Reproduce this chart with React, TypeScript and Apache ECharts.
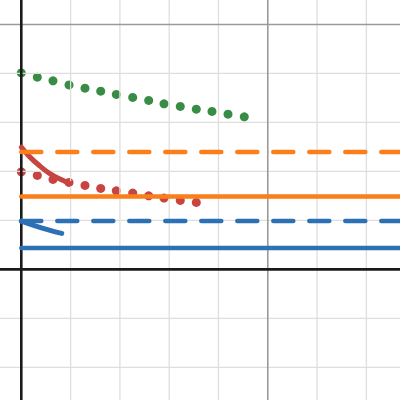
import { useEffect, useRef } from 'react';
import * as echarts from 'echarts';

// visible window, in graph units (one minor grid square = 1)
const X_MIN = -0.432;
const X_MAX = 7.682;
const Y_MIN = -2.667;
const Y_MAX = 5.5;

const minorGridX = [1, 2, 3, 4, 6, 7];
const minorGridY = [-2, -1, 1, 2, 3, 4];
const majorGridX = [5];
const majorGridY = [5];

// sample points
const dotX = [0, 0.325, 0.643, 0.968, 1.292, 1.611, 1.927, 2.26, 2.584, 2.895, 3.225, 3.55, 3.868, 4.193, 4.523];
const greenDotsY = [4.012, 3.924, 3.849, 3.767, 3.7, 3.639, 3.571, 3.51, 3.449, 3.38, 3.327, 3.271, 3.224, 3.169, 3.114];
const redDotsY = [1.992, 1.918, 1.837, 1.776, 1.714, 1.653, 1.604, 1.557, 1.502, 1.455, 1.408, 1.367];

const redCurveX = [0, 0.176, 0.38, 0.58, 0.785, 0.99];
const redCurveY = [2.496, 2.292, 2.108, 1.955, 1.843, 1.751];
const blueCurveX = [0, 0.28, 0.55, 0.82];
const blueCurveY = [0.986, 0.89, 0.808, 0.735];

const orangeDashedY = 2.394;
const orangeSolidY = 1.486;
const blueDashedY = 0.99;
const blueSolidY = 0.435;

const RED = '#c74440';
const BLUE = '#2d70b3';
const GREEN = '#388c46';
const ORANGE = '#fa7e19';

const pairs = (xs: number[], ys: number[]) => ys.map((y, i) => [xs[i], y]);

const vLine = (x: number, color: string, width: number) => ({
  type: 'line' as const,
  data: [[x, Y_MIN - 1], [x, Y_MAX + 1]],
  showSymbol: false,
  silent: true,
  lineStyle: { color, width },
});

const hLine = (y: number, color: string, width: number, dashed = false) => ({
  type: 'line' as const,
  data: [[X_MIN - 1, y], [X_MAX + 1, y]],
  showSymbol: false,
  silent: true,
  lineStyle: { color, width },
});

// horizontal lines restricted to x >= 0
const ray = (y: number, color: string, dashed: boolean) => ({
  type: 'line' as const,
  data: [[0, y], [X_MAX + 1, y]],
  showSymbol: false,
  silent: true,
  lineStyle: { color, width: 4.5, cap: 'round' as const, type: dashed ? [20, 16] : 'solid' },
});

export default function App() {
  const chartRef = useRef<HTMLDivElement>(null);

  useEffect(() => {
    if (!chartRef.current) return;
    const chart = echarts.init(chartRef.current, null, { renderer: 'svg' });

    const option: echarts.EChartsOption = {
      animation: false,
      backgroundColor: '#ffffff',
      grid: { left: 0, right: 0, top: 0, bottom: 0 },
      xAxis: {
        type: 'value',
        min: X_MIN,
        max: X_MAX,
        axisLine: { show: false },
        axisTick: { show: false },
        axisLabel: { show: false },
        splitLine: { show: false },
      },
      yAxis: {
        type: 'value',
        min: Y_MIN,
        max: Y_MAX,
        axisLine: { show: false },
        axisTick: { show: false },
        axisLabel: { show: false },
        splitLine: { show: false },
      },
      series: [
        ...minorGridX.map((x) => vLine(x, '#dedede', 1.3)),
        ...minorGridY.map((y) => hLine(y, '#dedede', 1.3)),
        ...majorGridX.map((x) => vLine(x, '#9a9a9a', 1.6)),
        ...majorGridY.map((y) => hLine(y, '#9a9a9a', 1.6)),
        vLine(0, '#1a1a1a', 2.6),
        hLine(0, '#1a1a1a', 2.6),
        {
          type: 'line',
          data: pairs(redCurveX, redCurveY),
          smooth: 0.4,
          showSymbol: false,
          lineStyle: { color: RED, width: 5, cap: 'round' },
        },
        {
          type: 'line',
          data: pairs(blueCurveX, blueCurveY),
          smooth: 0.4,
          showSymbol: false,
          lineStyle: { color: BLUE, width: 5, cap: 'round' },
        },
        {
          type: 'scatter',
          data: pairs(dotX, greenDotsY),
          symbolSize: 9,
          itemStyle: { color: GREEN, opacity: 1 },
        },
        {
          type: 'scatter',
          data: pairs(dotX, redDotsY),
          symbolSize: 9,
          itemStyle: { color: RED, opacity: 1 },
        },
        ray(orangeDashedY, ORANGE, true),
        ray(orangeSolidY, ORANGE, false),
        ray(blueDashedY, BLUE, true),
        ray(blueSolidY, BLUE, false),
      ],
    };

    chart.setOption(option);
    return () => chart.dispose();
  }, []);

  return (
    <div
      ref={chartRef}
      style={{ position: 'fixed', left: 0, top: 0, width: '400px', height: '400px' }}
    />
  );
}
